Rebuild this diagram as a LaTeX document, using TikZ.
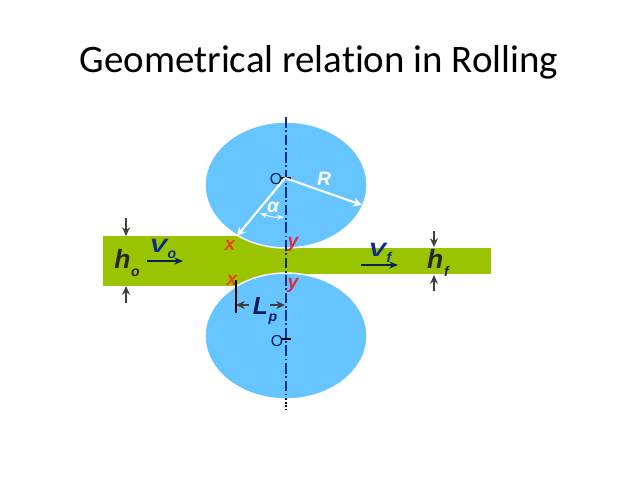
\documentclass[tikz,border=0pt]{standalone}
\usepackage{fontspec}
\usetikzlibrary{arrows.meta}
\setmainfont[Ligatures=NoCommon]{Carlito}
\newfontfamily\labelfont{Liberation Sans}
\definecolor{rollblue}{HTML}{66C4FF}
\definecolor{stripgreen}{HTML}{9BC400}
\definecolor{axisnavy}{HTML}{0B2F8A}
\definecolor{xorange}{HTML}{E8481C}
\definecolor{ycrimson}{HTML}{D92B4B}
\tikzset{
    lbl/.style={font=\labelfont\bfseries\itshape\fontsize{#1}{#1}\selectfont, inner sep=0pt},
    dim/.style={-{Stealth[length=5pt,width=4.5pt]}, black!75, semithick},
    flow/.style={-{Stealth[length=5pt,width=4pt]}, axisnavy!70!black, semithick},
    radius line/.style={-{Stealth[length=5pt,width=5pt]}, white, very thick},
    axis line/.style={axisnavy, thick, dash pattern=on 6pt off 1.5pt on 1pt off 1.5pt}
}
\newcommand{\subtxt}[2]{#1\raisebox{-0.3em}{\kern0.03em\footnotesize #2}}

\begin{document}
\begin{tikzpicture}[x=0.02cm,y=-0.02cm]
\useasboundingbox (0,0) rectangle (638,478);

\node (title) at (319,62) {\fontsize{22.15}{27}\selectfont Geometrical relation in Rolling};

% Walzgut
\fill[stripgreen] (103,236) rectangle (286,286);
\fill[stripgreen] (286,248) rectangle (491,274);

% Walzen
\filldraw[fill=rollblue, draw=white, thick] (286,185) ellipse (81 and 63);
\filldraw[fill=rollblue, draw=white, thick] (286,336) ellipse (81 and 63);

% Mittellinie
\coordinate (axistop) at (286,117);
\coordinate (axisbottom) at (286,399);
\coordinate (axisend) at (286,410);
\draw[axis line] (axistop) -- (axisbottom);
\draw[black, densely dotted, thick] (axisbottom) -- (axisend);

% Oberwalze
\coordinate (centertop) at (285,178);
\coordinate (tickleft) at (281,178);
\coordinate (tickright) at (291,178);
\coordinate (rimright) at (362,205);
\coordinate (rimleft) at (237,236);
\coordinate (alphastart) at (260,213);
\coordinate (alphaend) at (284,217);
\node[font=\labelfont\fontsize{9}{9}\selectfont, inner sep=0pt, axisnavy!60!black] (otop) at (276,179) {O};
\draw[black, thick] (tickleft) -- (tickright);
\draw[radius line] (centertop) -- (rimright);
\draw[radius line] (centertop) -- (rimleft);
\draw[{Stealth[length=4pt]}-{Stealth[length=4pt]}, white, semithick] (alphastart) to[bend right=12] (alphaend);
\node[lbl=11, white] (radius) at (324,179) {R};
\node[lbl=11, white] (alpha) at (273,207) {α};

% Unterwalze
\coordinate (tickleftb) at (281,339);
\coordinate (tickrightb) at (291,339);
\node[font=\labelfont\fontsize{9}{9}\selectfont, inner sep=0pt, axisnavy!60!black] (obottom) at (277,341) {O};
\draw[black, thick] (tickleftb) -- (tickrightb);

% Punkte x und y
\node[lbl=11, xorange] (xtop) at (230,245) {x};
\node[lbl=11, xorange] (xbottom) at (232,280) {x};
\node[lbl=11, ycrimson] (ytop) at (293,244) {y};
\node[lbl=11, ycrimson] (ybottom) at (293,285) {y};

% Einlauf
\node[lbl=15, black!85] (ho) at (127,263) {\subtxt{h}{o}};
\node[lbl=11, axisnavy] (vo) at (163,249) {\subtxt{\scalebox{1.35}[1]{V}}{o}};
\coordinate (votail) at (147,261);
\coordinate (vohead) at (183,261);
\draw[flow] (votail) -- (vohead);
\coordinate (hotop) at (126,218);
\coordinate (hotopend) at (126,236);
\coordinate (hobot) at (126,303);
\coordinate (hobotend) at (126,286);
\draw[dim] (hotop) -- (hotopend);
\draw[dim] (hobot) -- (hobotend);

% Auslauf
\node[lbl=15, black!85] (hf) at (438,263) {\subtxt{h}{f}};
\node[lbl=11, axisnavy] (vf) at (380,253) {\subtxt{\scalebox{1.35}[1]{V}}{f}};
\coordinate (vftail) at (361,265);
\coordinate (vfhead) at (398,265);
\draw[flow] (vftail) -- (vfhead);
\coordinate (hftop) at (434,231);
\coordinate (hftopend) at (434,247);
\coordinate (hfbot) at (434,291);
\coordinate (hfbotend) at (434,275);
\draw[dim] (hftop) -- (hftopend);
\draw[dim] (hfbot) -- (hfbotend);

% Kontaktlaenge
\coordinate (lptop) at (236,280);
\coordinate (lpbot) at (236,313);
\coordinate (lpleft) at (236,305);
\coordinate (lpleftend) at (249,305);
\coordinate (lpright) at (285,305);
\coordinate (lprightend) at (270,305);
\draw[black, thick] (lptop) -- (lpbot);
\draw[dim] (lpleftend) -- (lpleft);
\draw[dim] (lprightend) -- (lpright);
\node[lbl=14, axisnavy!60!black] (lp) at (265,311) {\subtxt{L}{p}};

\end{tikzpicture}
\end{document}
